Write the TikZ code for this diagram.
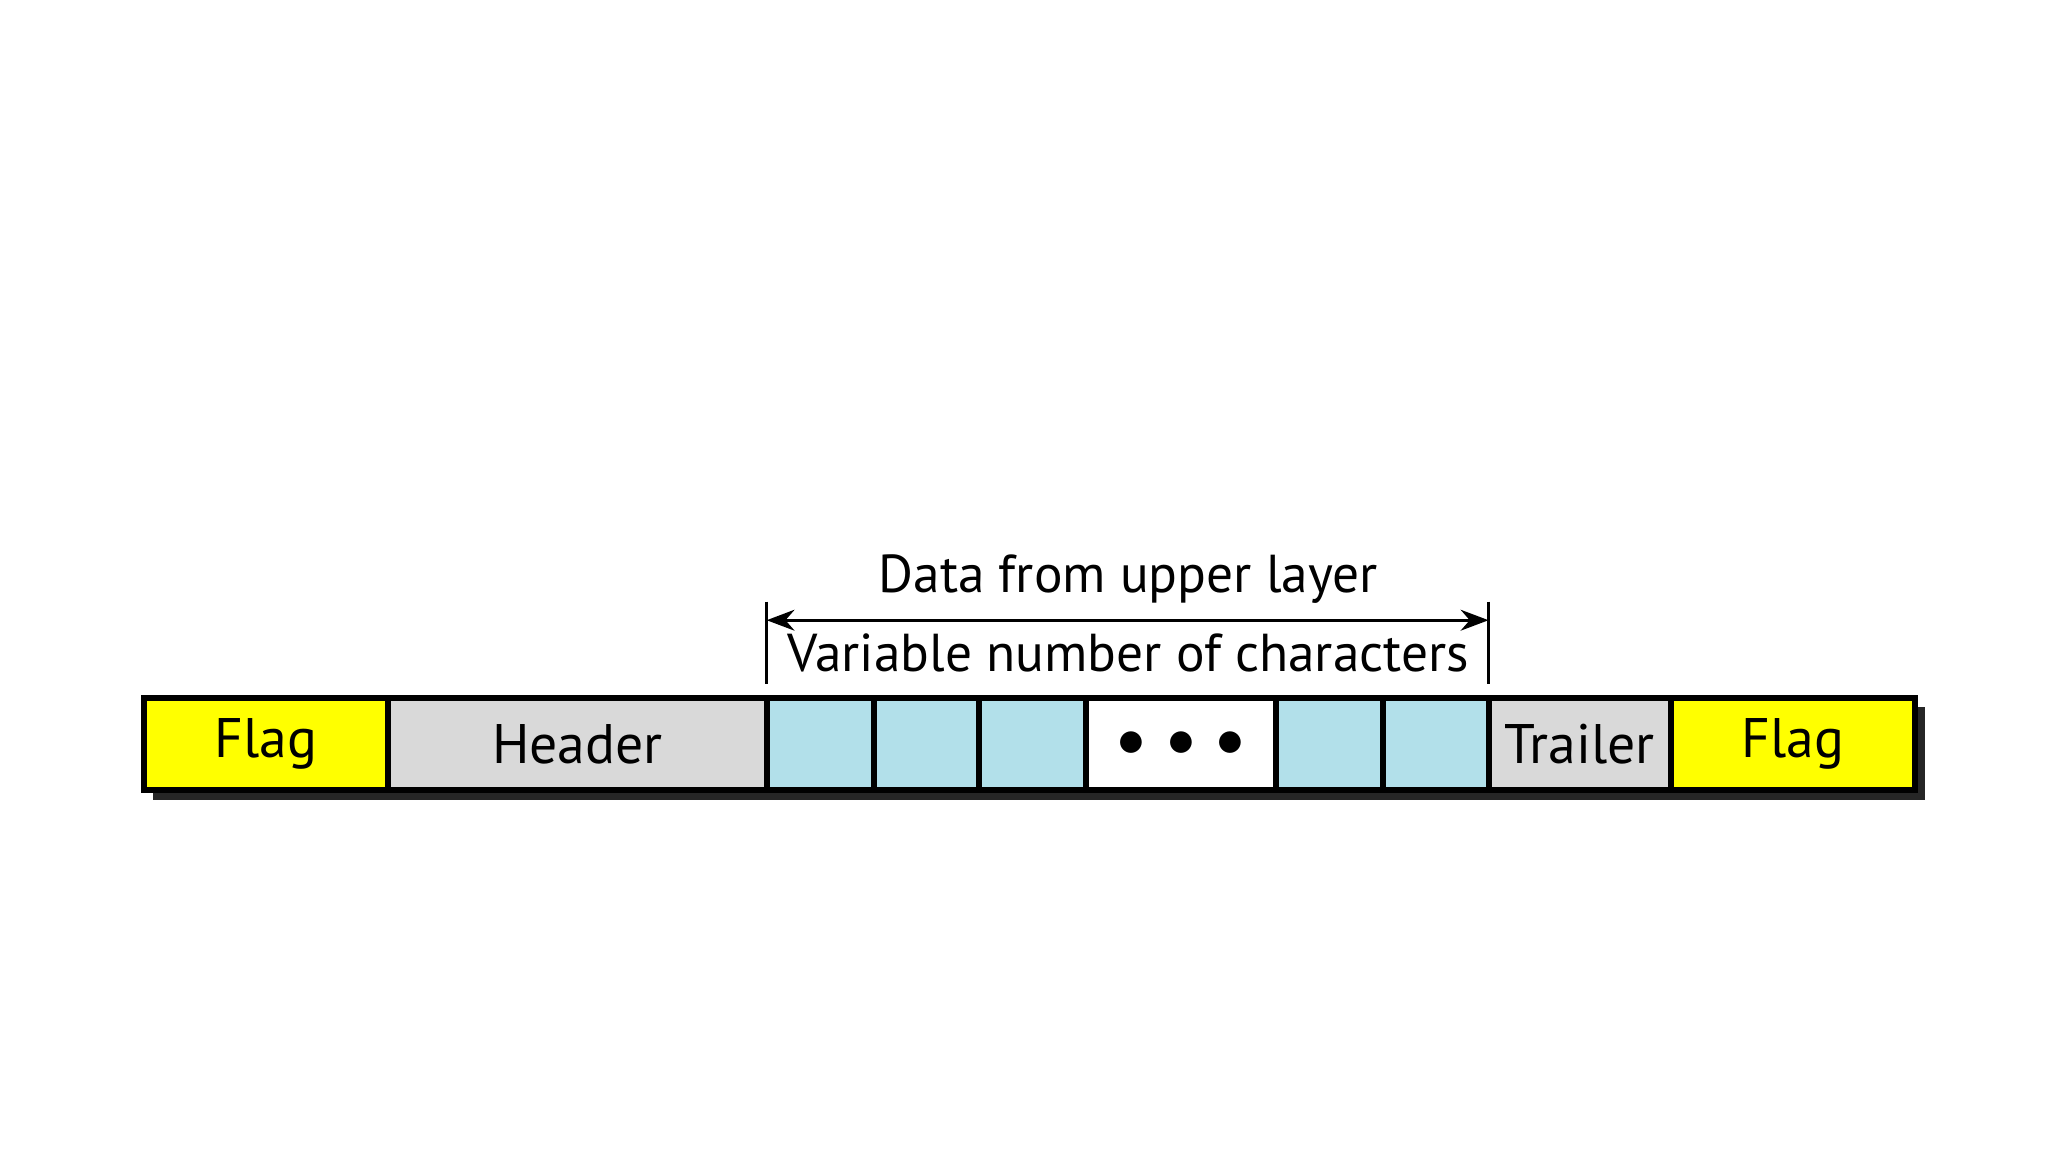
\documentclass[tikz,border=0pt]{standalone}
\usepackage{fontspec}
\setmainfont{PT Sans}
\usetikzlibrary{arrows.meta}
\definecolor{flagY}{RGB}{255,255,0}
\definecolor{hdrG}{RGB}{217,217,217}
\definecolor{dataB}{RGB}{178,224,234}
\begin{document}
\begin{tikzpicture}[x=0.01cm,y=-0.01cm,
  cell/.style={draw=black,line width=1.3pt,inner sep=0pt,font=\fontsize{12}{14}\selectfont},
  lbl/.style={font=\fontsize{11.5}{14}\selectfont,inner sep=0pt}]
\useasboundingbox (0,0) rectangle (1552,873);
\fill[black!85] (116,536) rectangle (1459,606);
\foreach \a/\b/\c/\t/\n in {109/294/flagY/Flag/f1,294/581/hdrG/Header/h,581/662/dataB//d1,662/742/dataB//d2,742/823/dataB//d3,823/967/white/{$\bullet\,\bullet\,\bullet$}/dots,967/1048/dataB//d4,1048/1128/dataB//d5,1128/1266/hdrG/Trailer/tr,1266/1451/flagY/Flag/f2}{
  \node[cell,fill=\c,minimum width={(\b-\a)*0.01cm},minimum height=0.7cm] (\n) at ({(\a+\b)/2},564) {\t};
}
\coordinate (t1a) at (581,456); \coordinate (t1b) at (581,518);
\coordinate (t2a) at (1128,456); \coordinate (t2b) at (1128,518);
\draw[line width=0.6pt] (t1a) -- (t1b);
\draw[line width=0.6pt] (t2a) -- (t2b);
\coordinate (aL) at (581,470); \coordinate (aR) at (1128,470);
\draw[line width=0.6pt,{Stealth[length=6pt]}-{Stealth[length=6pt]}] (aL) -- (aR);
\node[lbl] (top) at (855,439) {Data from upper layer};
\node[lbl] (bot) at (855,495) {Variable number of characters};
\end{tikzpicture}
\end{document}
